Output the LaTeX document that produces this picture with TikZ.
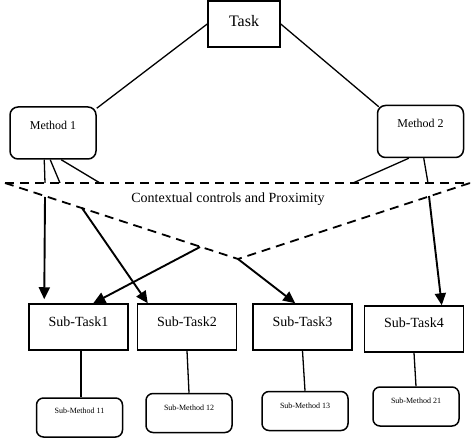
\documentclass[tikz,border=0pt]{standalone}
\usepackage{fontspec}
\setmainfont{Liberation Serif}
\usetikzlibrary{arrows.meta}

\tikzset{
  taskbox/.style={draw=black, line width=1.5pt, minimum width=72pt, minimum height=46pt, inner sep=0pt, font=\fontsize{16}{18}\selectfont, text depth=6pt},
  methodbox/.style={draw=black, line width=1.5pt, rounded corners=8pt, minimum width=86pt, minimum height=52pt, inner sep=0pt, font=\fontsize{12}{14}\selectfont},
  subtaskbox/.style={draw=black, line width=1.5pt, minimum width=99pt, minimum height=46pt, inner sep=0pt, font=\fontsize{14}{16}\selectfont},
  submethodbox/.style={draw=black, line width=1.5pt, rounded corners=7pt, minimum width=86pt, minimum height=39pt, inner sep=0pt, font=\fontsize{8}{10}\selectfont},
  ctxline/.style={line width=1.8pt, dash pattern=on 9pt off 6pt},
  thinlink/.style={line width=1.3pt},
  thicklink/.style={->, line width=1.9pt}
}

\begin{document}
\begin{tikzpicture}
            [x=1pt, y=-1pt, >={Triangle[length=12pt,width=11pt]}]
            \useasboundingbox (0, 0) rectangle (474, 438);

            \node[taskbox] (task) at (244, 24) {Task};
            \node[methodbox, text depth=16pt] (m1) at (53, 133) {Method 1};
            \node[methodbox, text depth=17pt] (m2) at (420.5, 131.5) {Method 2};

            \node[subtaskbox, text depth=10pt] (st1) at (78.5, 327) {Sub-Task1};
            \node[subtaskbox, text depth=10pt] (st2) at (187, 327) {Sub-Task2};
            \node[subtaskbox, text depth=10pt] (st3) at (302.5, 327) {Sub-Task3};
            \node[subtaskbox, text depth=12pt] (st4) at (414, 329) {Sub-Task4};

            \node[submethodbox, text depth=13pt] (sm11) at (79.5, 417.5) {Sub-Method 11};
            \node[submethodbox, text depth=10pt] (sm12) at (189, 413) {Sub-Method 12};
            \node[submethodbox, text depth=10pt] (sm13) at (305, 411) {Sub-Method 13};
            \node[submethodbox, text depth=11pt] (sm21) at (416, 406.5) {Sub-Method 21};

            \node[font=\fontsize{14}{16}\selectfont] (ctx) at (228, 199) {Contextual controls and Proximity};

            % the dashed context band
            \coordinate (cl) at (5, 183);
            \coordinate (cr) at (470, 183);
            \coordinate (cv) at (238, 259);
            \coordinate (p1) at (45, 183);
            \coordinate (p2) at (60, 183);
            \coordinate (p3) at (100, 183);
            \coordinate (p4) at (353, 183);
            \coordinate (p5) at (428, 183);
            \coordinate (a1) at (45, 197);
            \coordinate (a2) at (82, 208);
            \coordinate (a3) at (200, 247);
            \coordinate (a5) at (429, 196);

            \draw[ctxline] (cl) -- (cr);
            \draw[ctxline] (cl) -- (cv) -- (cr);

            \path [thinlink] (task.west) edge ([yshift=-2pt]m1.north east);
            \path [thinlink] (task.east) edge ([yshift=-2pt,xshift=2pt]m2.north west);

            \path [thinlink] ([xshift=35pt]m1.south west) edge (p1);
            \path [thinlink] ([xshift=41pt]m1.south west) edge (p2);
            \path [thinlink] ([xshift=52pt]m1.south west) edge (p3);
            \path [thinlink] ([xshift=32pt]m2.south west) edge (p4);
            \path [thinlink] ([xshift=47pt]m2.south west) edge (p5);

            \path [thicklink] (a1) edge ([xshift=16pt,yshift=4pt]st1.north west);
            \path [thicklink] (a2) edge ([xshift=11pt]st2.north west);
            \path [thicklink] (a3) edge ([xshift=65pt]st1.north west);
            \path [thicklink] (cv) edge ([xshift=43pt]st3.north west);
            \path [thicklink] (a5) edge ([xshift=78pt]st4.north west);

            \path [thinlink] ([xshift=2.5pt]st1.south) edge ([xshift=1.5pt]sm11.north);
            \path [thinlink] (st2.south) edge (sm12.north);
            \path [thinlink] (st3.south) edge (sm13.north);
            \path [thinlink] (st4.south) edge (sm21.north);
        \end{tikzpicture}
\end{document}
